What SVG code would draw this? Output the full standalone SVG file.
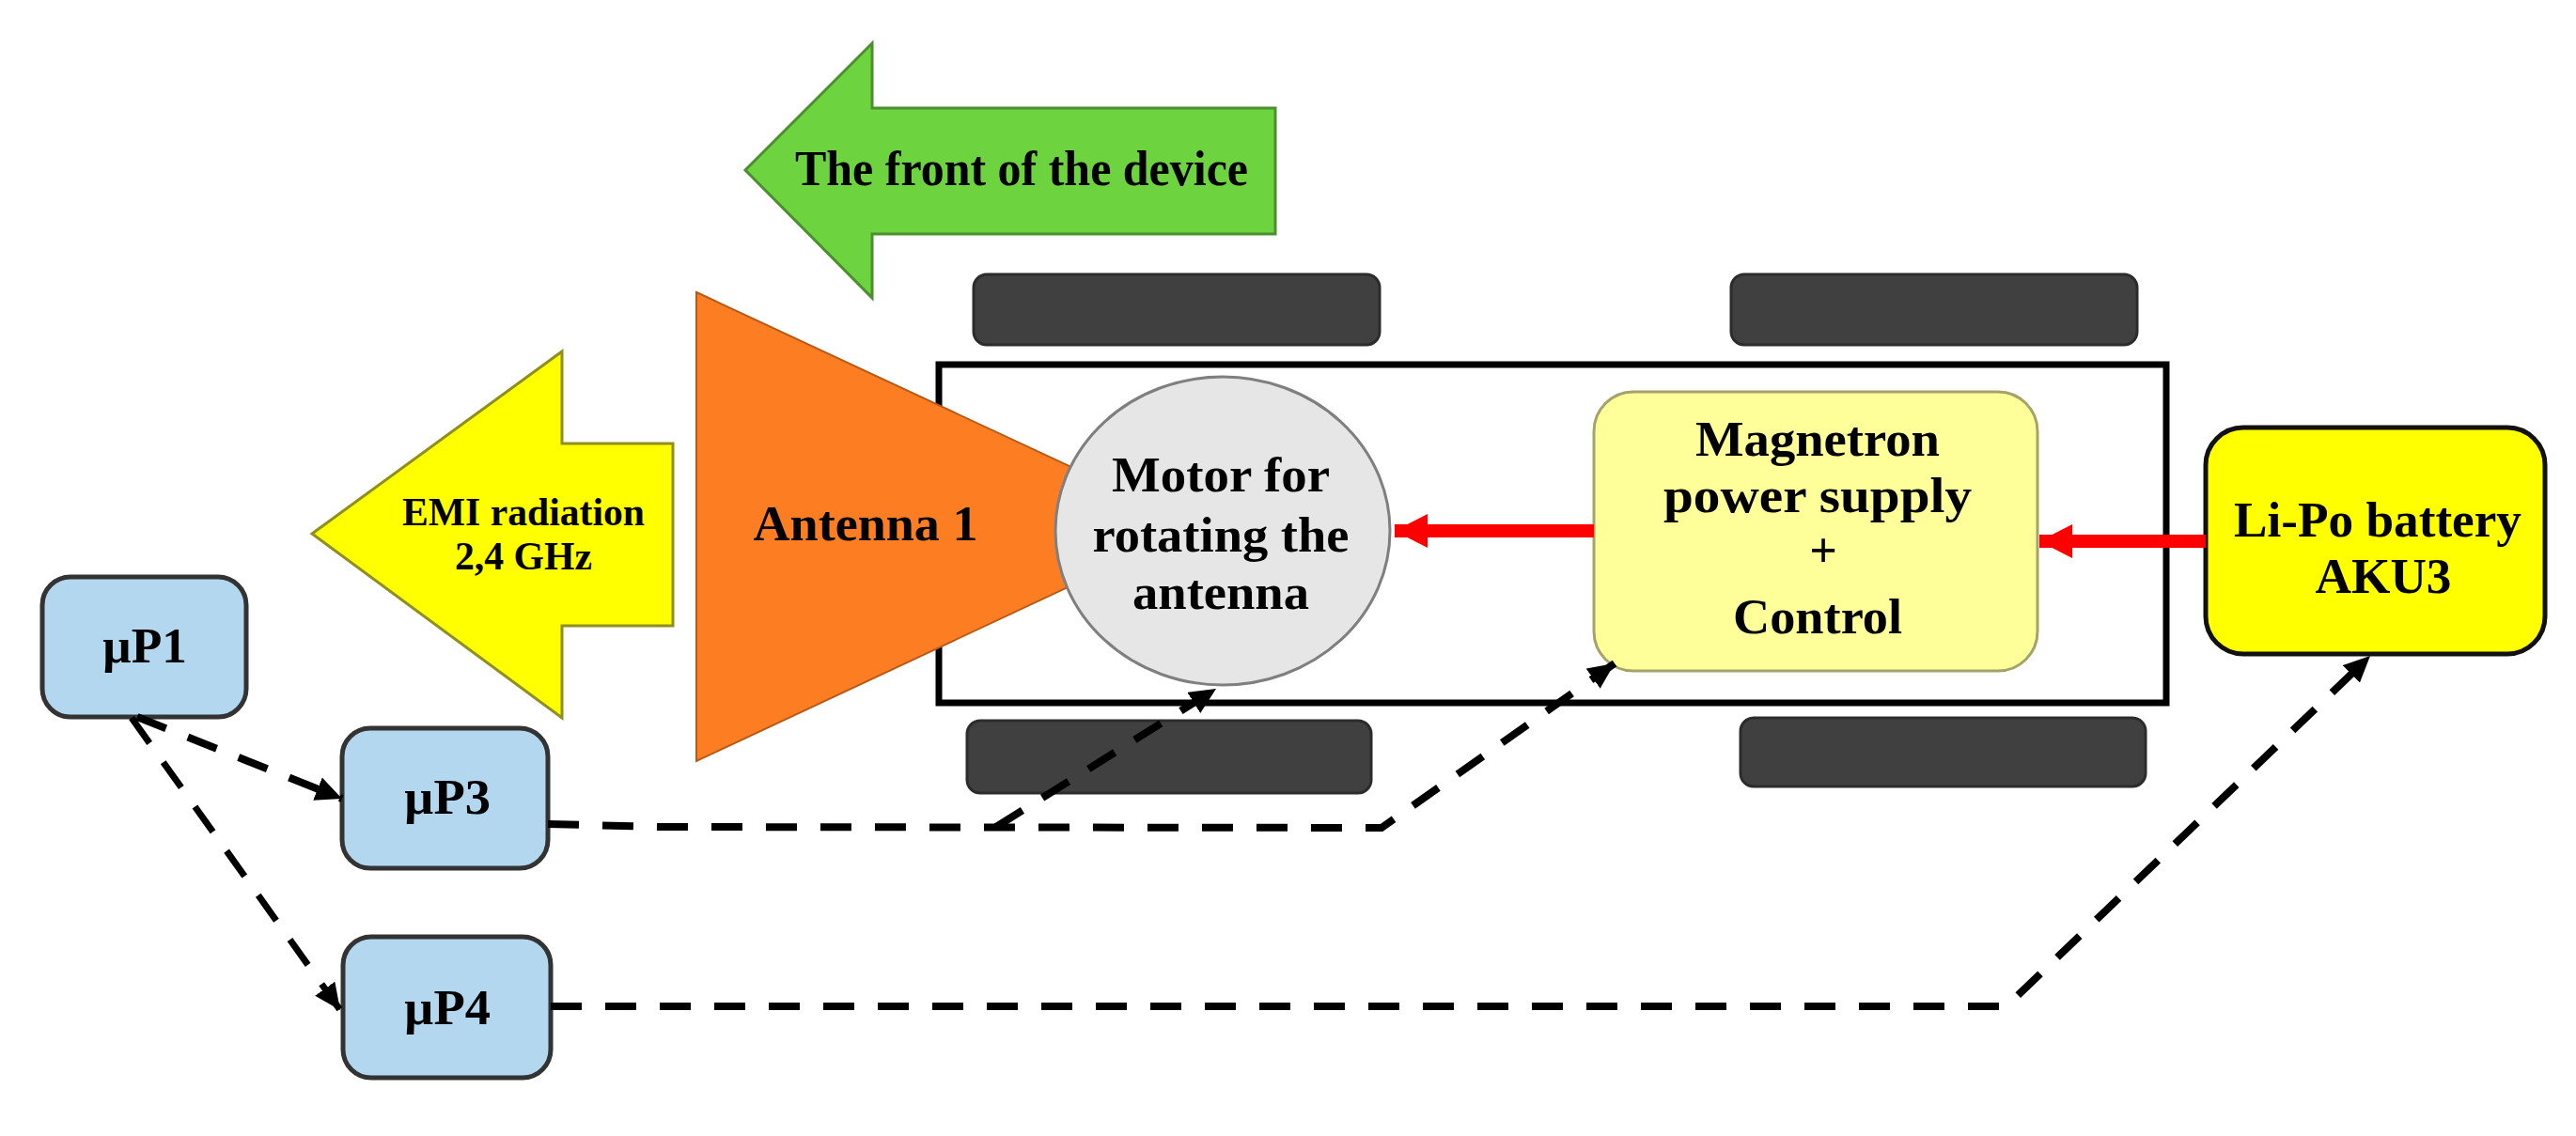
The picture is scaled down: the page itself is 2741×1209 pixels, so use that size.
<svg xmlns="http://www.w3.org/2000/svg" width="2741" height="1209" viewBox="0 0 2741 1209">
<style>
text{font-family:"Liberation Serif","Times New Roman",serif;font-weight:700;font-size:52px;fill:#000;text-anchor:middle}
.wheel{fill:#404040;stroke:#2c2c2c;stroke-width:3}
.up{fill:#b4d7f0;stroke:#333;stroke-width:5}
.dash{fill:none;stroke:#000;stroke-width:8;stroke-dasharray:33 25}
.thin{stroke-width:7}
.red{fill:none;stroke:#f00;stroke-width:14}
</style>
<defs>
<marker id="ah" markerUnits="userSpaceOnUse" markerWidth="30" markerHeight="26" refX="28" refY="13" orient="auto"><path d="M0 0L28 13L0 26Z" fill="#000"/></marker>
<marker id="rh" markerUnits="userSpaceOnUse" markerWidth="36" markerHeight="40" refX="35" refY="20" orient="auto"><path d="M0 2L35 20L0 38Z" fill="#f00"/></marker>
</defs>
<rect width="2741" height="1209" fill="#fff"/>
<g id="front"><polygon points="793,181 928,46 928,115 1357,115 1357,249 928,249 928,317" fill="#6dd33f" stroke="#4b8f2e" stroke-width="3"/><text x="1087" y="197" textLength="482" lengthAdjust="spacingAndGlyphs">The front of the device</text></g>
<g id="emi"><polygon points="332,568 598,374 598,472 716,472 716,666 598,666 598,764" fill="#ff0" stroke="#8f8f1f" stroke-width="3"/><text x="557" y="559" font-size="42" style="font-size:42px" textLength="258" lengthAdjust="spacingAndGlyphs">EMI radiation</text><text x="557" y="606" style="font-size:42px" textLength="146" lengthAdjust="spacingAndGlyphs">2,4 GHz</text></g>
<g id="wheels"><rect class="wheel" x="1036" y="292" width="432" height="75" rx="14"/><rect class="wheel" x="1842" y="292" width="432" height="75" rx="14"/><rect class="wheel" x="1029" y="767" width="430" height="77" rx="14"/><rect class="wheel" x="1852" y="764" width="431" height="73" rx="14"/></g>
<g id="body"><rect x="999" y="388" width="1306" height="360" fill="#fff" stroke="#000" stroke-width="7"/></g>
<g id="antenna"><polygon points="741,311 1275,560 741,810" fill="#fd7e22" stroke="#b85a18" stroke-width="2"/><text x="921" y="575" textLength="239" lengthAdjust="spacingAndGlyphs">Antenna 1</text></g>
<g id="motor"><ellipse cx="1301" cy="565" rx="178" ry="164" fill="#e6e6e6" stroke="#7f7f7f" stroke-width="3"/><text x="1299" y="523" textLength="232" lengthAdjust="spacingAndGlyphs">Motor for</text><text x="1299" y="587" textLength="273" lengthAdjust="spacingAndGlyphs">rotating the</text><text x="1299" y="648" textLength="188" lengthAdjust="spacingAndGlyphs">antenna</text></g>
<g id="magnetron"><rect x="1696" y="417" width="472" height="297" rx="42" fill="#ff9" stroke="#a3a36a" stroke-width="3"/><text x="1934" y="485" textLength="260" lengthAdjust="spacingAndGlyphs">Magnetron</text><text x="1934" y="545" textLength="328" lengthAdjust="spacingAndGlyphs">power supply</text><text x="1940" y="603">+</text><text x="1934" y="674" textLength="180" lengthAdjust="spacingAndGlyphs">Control</text></g>
<g id="battery"><rect x="2347" y="455" width="361" height="241" rx="40" fill="#ff0" stroke="#111" stroke-width="5"/><text x="2530" y="571" textLength="306" lengthAdjust="spacingAndGlyphs">Li-Po battery</text><text x="2536" y="631" textLength="145" lengthAdjust="spacingAndGlyphs">AKU3</text></g>
<g id="p1"><rect class="up" x="45" y="614" width="217" height="149" rx="30"/><text x="154" y="705" textLength="90" lengthAdjust="spacingAndGlyphs">µP1</text></g>
<g id="p3"><rect class="up" x="364" y="775" width="219" height="149" rx="30"/><text x="476" y="866" textLength="92" lengthAdjust="spacingAndGlyphs">µP3</text></g>
<g id="p4"><rect class="up" x="365" y="997" width="221" height="150" rx="30"/><text x="476" y="1090" textLength="92" lengthAdjust="spacingAndGlyphs">µP4</text></g>
<g id="connectors">
<line class="red" x1="1696" y1="565" x2="1484" y2="565" marker-end="url(#rh)"/>
<line class="red" x1="2347" y1="576" x2="2170" y2="576" marker-end="url(#rh)"/>
<path class="dash" d="M146 763L364 850" marker-end="url(#ah)"/>
<path class="dash thin" d="M140 764L362 1075" marker-end="url(#ah)"/>
<path class="dash" d="M583 877L700 880L1470 881L1718 706" marker-end="url(#ah)"/>
<path class="dash" d="M1060 880L1294 733" marker-end="url(#ah)"/>
<path class="dash" d="M586 1071L2135 1071L2522 698" marker-end="url(#ah)"/>
</g>
</svg>
